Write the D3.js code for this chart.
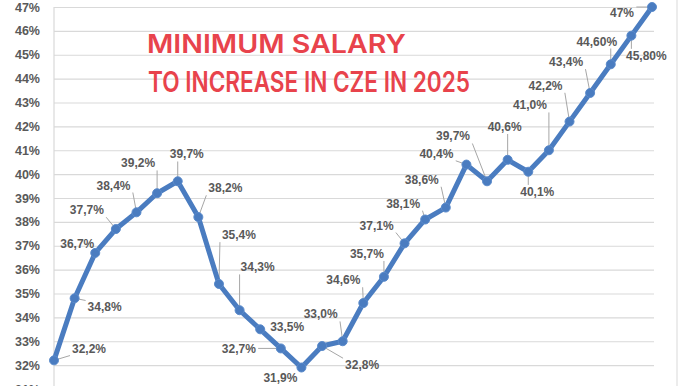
<!DOCTYPE html>
<html>
<head>
<meta charset="utf-8">
<script src="https://cdn.jsdelivr.net/npm/d3@7"></script>
<style>
  html, body { margin: 0; padding: 0; background: #fff; }
  svg { display: block; }
</style>
</head>
<body>
<svg width="686" height="386"></svg>
<script>
(function() {
  // one point per step
  let steps = d3.range(1, 31);
  let values = [32.2, 34.8, 36.7, 37.7, 38.4, 39.2, 39.7, 38.2, 35.4, 34.3,
                33.5, 32.7, 31.9, 32.8, 33.0, 34.6, 35.7, 37.1, 38.1, 38.6,
                40.4, 39.7, 40.6, 40.1, 41.0, 42.2, 43.4, 44.6, 45.8, 47];
  let labels = ['32,2%', '34,8%', '36,7%', '37,7%', '38,4%', '39,2%', '39,7%',
                '38,2%', '35,4%', '34,3%', '33,5%', '32,7%', '31,9%', '32,8%',
                '33,0%', '34,6%', '35,7%', '37,1%', '38,1%', '38,6%', '40,4%',
                '39,7%', '40,6%', '40,1%', '41,0%', '42,2%', '43,4%', '44,60%',
                '45,80%', '47%'];
  let yTicks = d3.range(31, 48);
  let titleLines = ['MINIMUM SALARY', 'TO INCREASE IN CZE IN 2025'];

  // label placement (offset of label centre from its point, px)
  let labelOffsets = [
    [35, -12], [30, 9], [-18, -9], [-29, -19], [-23, -27], [-19, -30],
    [9, -27], [27, -29], [20, -49], [18, -43], [27, -3], [-42, 0],
    [-21, 10], [40, 19], [-22, -27], [-20, -23], [-17, -23], [-28, -18],
    [-22, -16], [-24, -28], [-30, -11], [-34, -45], [-3, -33], [9, 20],
    [-19, -45], [-24, -36], [-24, -31], [-14, -23], [15, 20], [-30, 6]
  ];

  let svg = d3.select('svg'),
      width = +svg.attr('width'),
      height = +svg.attr('height');

  let x = d3.scalePoint()
    .domain(steps)
    .range([54, 652]);

  let y = d3.scaleLinear()
    .domain([31, 47])
    .range([389, 7]);

  let blue = '#4a7cc0';
  let grey = '#595959';

  // frame line on the right edge
  svg.append('line')
    .attr('x1', 677).attr('x2', 677)
    .attr('y1', 0).attr('y2', height)
    .attr('stroke', '#d9d9d9')
    .attr('stroke-width', 1);

  // gridlines + y axis labels
  let yAxis = svg.append('g')
    .attr('transform', 'translate(54,0)')
    .call(d3.axisLeft(y)
      .tickValues(yTicks)
      .tickSize(-600)
      .tickPadding(14)
      .tickFormat(function(d) { return d + '%'; }));
  yAxis.select('.domain').remove();
  yAxis.selectAll('.tick line')
    .attr('stroke', '#d9d9d9')
    .attr('stroke-width', 1.2);
  yAxis.selectAll('.tick text')
    .attr('fill', grey)
    .attr('font-family', '"Liberation Sans", Arial, sans-serif')
    .attr('font-weight', 'bold')
    .attr('font-size', 12.5);

  // vertical axis line
  svg.append('line')
    .attr('x1', 54).attr('x2', 54)
    .attr('y1', 7).attr('y2', height)
    .attr('stroke', '#d9d9d9')
    .attr('stroke-width', 1.2);

  // title
  let title = svg.append('g').attr('class', 'title');
  title.selectAll('text')
    .data(titleLines)
    .enter().append('text')
    .attr('x', function(d, i) { return i === 0 ? 147 : 148; })
    .attr('y', function(d, i) { return i === 0 ? 53 : 92; })
    .attr('textLength', function(d, i) { return i === 0 ? 259 : 322; })
    .attr('lengthAdjust', 'spacingAndGlyphs')
    .attr('fill', '#e8434c')
    .attr('font-family', 'Inter, Lato, sans-serif')
    .attr('font-weight', 600)
    .attr('font-size', function(d, i) { return i === 0 ? 26 : 28; })
    .text(function(d) { return d; });

  let pts = values.map(function(v, i) {
    let off = labelOffsets[i];
    return {
      step: steps[i],
      value: v,
      label: labels[i],
      px: x(steps[i]),
      py: y(v),
      lx: x(steps[i]) + off[0],
      ly: y(v) + off[1]
    };
  });

  // data labels first so we can measure them for leader lines
  let labelG = svg.append('g').attr('class', 'labels');
  let texts = labelG.selectAll('text')
    .data(pts)
    .enter().append('text')
    .attr('x', function(d) { return d.lx; })
    .attr('y', function(d) { return d.ly; })
    .attr('dy', '0.35em')
    .attr('text-anchor', 'middle')
    .attr('fill', grey)
    .attr('font-family', '"Liberation Sans", Arial, sans-serif')
    .attr('font-weight', 'bold')
    .attr('font-size', 12)
    .text(function(d) { return d.label; });

  texts.each(function(d) {
    let b = this.getBBox();
    d.box = { x0: b.x - 2, x1: b.x + b.width + 2, y0: b.y, y1: b.y + b.height };
  });

  // leader lines: point -> nearest spot on label box
  let leaders = svg.insert('g', '.labels').attr('class', 'leaders');
  pts.forEach(function(d) {
    let tx = Math.max(d.box.x0, Math.min(d.px, d.box.x1));
    let ty = Math.max(d.box.y0, Math.min(d.py, d.box.y1));
    let dx = tx - d.px, dy = ty - d.py;
    let len = Math.sqrt(dx * dx + dy * dy);
    if (len < 9) return;
    leaders.append('line')
      .attr('x1', d.px + dx / len * 4)
      .attr('y1', d.py + dy / len * 4)
      .attr('x2', tx)
      .attr('y2', ty)
      .attr('stroke', '#a6a6a6')
      .attr('stroke-width', 1);
  });

  // the series
  let line = d3.line()
    .x(function(d) { return d.px; })
    .y(function(d) { return d.py; });

  svg.append('path')
    .datum(pts)
    .attr('fill', 'none')
    .attr('stroke', blue)
    .attr('stroke-width', 5)
    .attr('stroke-linejoin', 'round')
    .attr('d', line);

  svg.append('g')
    .attr('class', 'markers')
    .selectAll('circle')
    .data(pts)
    .enter().append('circle')
    .attr('cx', function(d) { return d.px; })
    .attr('cy', function(d) { return d.py; })
    .attr('r', 4.5)
    .attr('fill', blue)
    .attr('stroke', '#5b8bcb')
    .attr('stroke-width', 1);

  svg.node().appendChild(labelG.node());
})();
</script>
</body>
</html>
